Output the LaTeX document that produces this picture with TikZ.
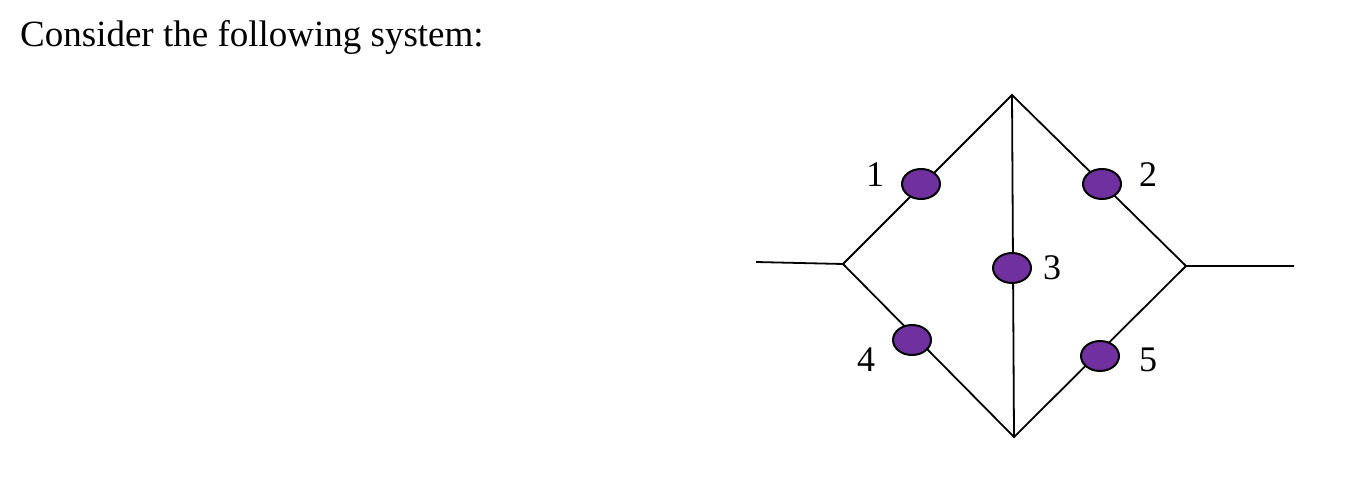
\documentclass[tikz,border=0pt]{standalone}
\usepackage{fontspec}
\setmainfont{Liberation Serif}
\usetikzlibrary{shapes.geometric}
\definecolor{purp}{HTML}{7030A0}
\begin{document}
\begin{tikzpicture}[x=1pt,y=-1pt,
  wire/.style={line width=1.8pt},
  comp/.style={ellipse,draw,line width=2pt,fill=purp,minimum width=38pt,minimum height=30pt,inner sep=0pt},
  lab/.style={font=\fontsize{36}{40}\selectfont,inner sep=0pt}]
\useasboundingbox (0,0) rectangle (1359,484);
\node[font=\fontsize{37}{42}\selectfont,anchor=west,inner sep=0pt] (title) at (20,37) {Consider the following system:};
\coordinate (le) at (756,262);
\coordinate (lv) at (843,264);
\coordinate (tp) at (1012,95);
\coordinate (bt) at (1014,437);
\coordinate (rv) at (1186,266);
\coordinate (re) at (1294,266);
\draw[wire] (le) -- (lv) -- (tp) -- (rv) -- (re);
\draw[wire] (lv) -- (bt) -- (rv);
\draw[wire] (tp) -- (bt);
\node[comp] (c1) at (921,184) {};
\node[comp] (c2) at (1102,184) {};
\node[comp] (c3) at (1012,268) {};
\node[comp] (c4) at (912,340) {};
\node[comp] (c5) at (1100,356) {};
\node[lab] (l1) at (875,175) {1};
\node[lab] (l2) at (1148,175) {2};
\node[lab] (l3) at (1052,268) {3};
\node[lab] (l4) at (866,360) {4};
\node[lab] (l5) at (1148,360) {5};
\end{tikzpicture}
\end{document}
